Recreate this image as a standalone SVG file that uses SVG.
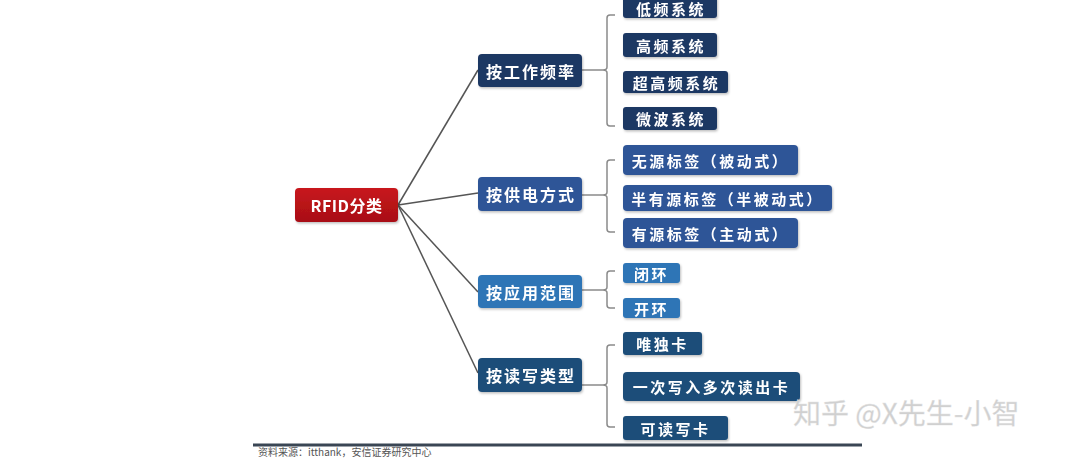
<svg xmlns="http://www.w3.org/2000/svg" width="1080" height="458" viewBox="0 0 1080 458">
<style>
.t{font-family:"Noto Sans CJK SC","Noto Sans",sans-serif;font-weight:700;fill:#fff;text-anchor:middle;dominant-baseline:central}
.m{font-size:16px;letter-spacing:2px}
.l{font-size:15px;letter-spacing:2.5px}
.con{stroke:#555;stroke-width:1.5;fill:none}
.br{stroke:#8a8a8a;stroke-width:1.5;fill:none}
.navy{fill:#1f3864}
.blue{fill:#2f5597}
.lblue{fill:#2e75b6}
.dblue{fill:#1f4e79}
</style>
<defs>
<linearGradient id="red" x1="0" y1="0" x2="0" y2="1">
<stop offset="0" stop-color="#c8161d"/><stop offset="1" stop-color="#a80f14"/>
</linearGradient>
<filter id="sh" x="-10%" y="-20%" width="120%" height="150%">
<feDropShadow dx="1" dy="1.5" stdDeviation="1" flood-color="#000" flood-opacity="0.25"/>
</filter>
</defs>
<rect width="1080" height="458" fill="#fff"/>
<g id="connectors">
<path class="con" d="M398,205 L478,70"/>
<path class="con" d="M398,205 L478,193"/>
<path class="con" d="M398,205 L478,292"/>
<path class="con" d="M398,205 L478,373"/>
<path class="br" d="M582,70 H603 M615,15 H610 Q607,15 607,18 V67 Q607,70 603,70 Q607,70 607,73 V123 Q607,126 610,126 H615"/>
<path class="br" d="M582,195 H603 M615,160 H610 Q607,160 607,163 V192 Q607,195 603,195 Q607,195 607,198 V229 Q607,232 610,232 H615"/>
<path class="br" d="M582,290 H603 M615,271 H610 Q607,271 607,274 V287 Q607,290 603,290 Q607,290 607,293 V305 Q607,308 610,308 H615"/>
<path class="br" d="M582,385 H603 M615,345 H610 Q607,345 607,348 V382 Q607,385 603,385 Q607,385 607,388 V424 Q607,427 610,427 H615"/>
</g>
<g id="root" filter="url(#sh)">
<rect x="295" y="188" width="103" height="34" rx="4" fill="url(#red)"/>
<text class="t m" x="346.5" y="205" style="font-size:16px;letter-spacing:0.5px">RFID分类</text>
</g>
<g id="n-freq" filter="url(#sh)">
<rect class="navy" x="478" y="54" width="104" height="33" rx="4"/>
<text class="t m" x="531" y="70.5">按工作频率</text>
</g>
<g id="n-power" filter="url(#sh)">
<rect class="blue" x="478" y="177" width="104" height="34" rx="4"/>
<text class="t m" x="531" y="194">按供电方式</text>
</g>
<g id="n-range" filter="url(#sh)">
<rect class="lblue" x="478" y="275" width="104" height="33" rx="4"/>
<text class="t m" x="531" y="291.5">按应用范围</text>
</g>
<g id="n-rw" filter="url(#sh)">
<rect class="dblue" x="478" y="358" width="104" height="34" rx="4"/>
<text class="t m" x="531" y="375">按读写类型</text>
</g>
<g id="f1" filter="url(#sh)">
<rect class="navy" x="623" y="-4" width="94" height="22" rx="3"/>
<text class="t l" x="671" y="8.5">低频系统</text>
</g>
<g id="f2" filter="url(#sh)">
<rect class="navy" x="623" y="33" width="94" height="24" rx="3"/>
<text class="t l" x="671" y="45">高频系统</text>
</g>
<g id="f3" filter="url(#sh)">
<rect class="navy" x="623" y="71" width="105" height="22" rx="3"/>
<text class="t l" x="676.5" y="82">超高频系统</text>
</g>
<g id="f4" filter="url(#sh)">
<rect class="navy" x="623" y="107" width="94" height="23" rx="3"/>
<text class="t l" x="671" y="118.5">微波系统</text>
</g>
<g id="p1" filter="url(#sh)">
<rect class="blue" x="623" y="145" width="175" height="30" rx="4"/>
<text class="t l" x="710.5" y="160">无源标签（被动式）</text>
</g>
<g id="p2" filter="url(#sh)">
<rect class="blue" x="623" y="185" width="209" height="26" rx="4"/>
<text class="t l" x="727.5" y="198">半有源标签（半被动式）</text>
</g>
<g id="p3" filter="url(#sh)">
<rect class="blue" x="623" y="218" width="175" height="30" rx="4"/>
<text class="t l" x="710.5" y="233">有源标签（主动式）</text>
</g>
<g id="r1" filter="url(#sh)">
<rect class="lblue" x="623" y="263" width="57" height="20" rx="3"/>
<text class="t l" x="651.5" y="273">闭环</text>
</g>
<g id="r2" filter="url(#sh)">
<rect class="lblue" x="623" y="298" width="57" height="20" rx="3"/>
<text class="t l" x="651.5" y="308">开环</text>
</g>
<g id="w1" filter="url(#sh)">
<rect class="dblue" x="623" y="332" width="79" height="23" rx="3"/>
<text class="t l" x="662.5" y="343.5">唯独卡</text>
</g>
<g id="w2" filter="url(#sh)">
<rect class="dblue" x="623" y="372" width="177" height="29" rx="4"/>
<text class="t l" x="711.5" y="386.5">一次写入多次读出卡</text>
</g>
<g id="w3" filter="url(#sh)">
<rect class="dblue" x="623" y="416" width="105" height="24" rx="3"/>
<text class="t l" x="675.5" y="428">可读写卡</text>
</g>
<line x1="253" y1="445" x2="862" y2="445" stroke="#3a4654" stroke-width="3"/>
<text x="258" y="456" font-family="'Noto Sans CJK SC','Noto Sans',sans-serif" font-size="10" fill="#555">资料来源：itthank，安信证券研究中心</text>
<text x="793" y="424" font-family="'Noto Sans CJK SC','Noto Sans',sans-serif" font-size="28" fill="#d0d0d0" stroke="#e6e6e6" stroke-width="0.3">知乎 @X先生-小智</text>
</svg>
